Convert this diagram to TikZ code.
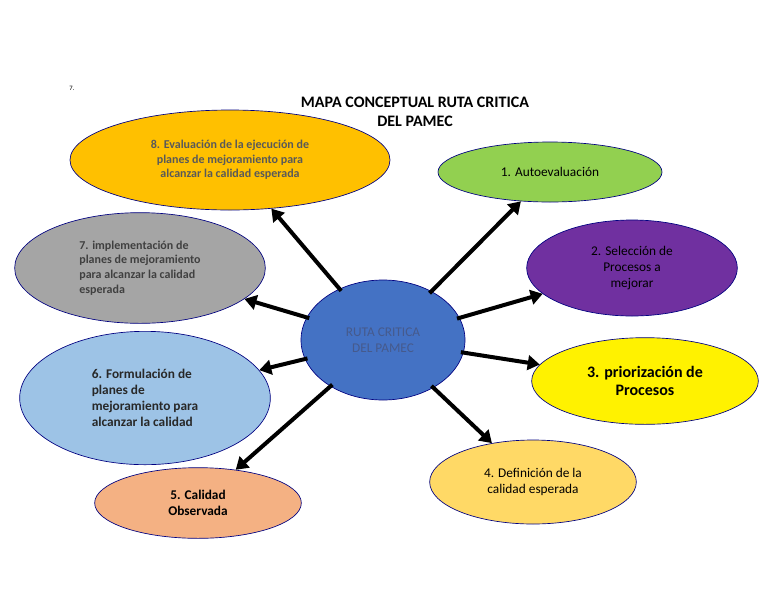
\documentclass[tikz,border=0pt]{standalone}
\usepackage{fontspec}
\setmainfont{Carlito}
\usetikzlibrary{shapes.geometric,arrows.meta}
\begin{document}
\begin{tikzpicture}[x=0.75pt,y=-0.75pt,
  el/.style={ellipse,draw=blue!50!black,line width=0.5pt,minimum width=#1,inner sep=0pt,align=center},
  arr/.style={line width=3pt,-{Triangle[length=9pt,width=11pt]},shorten <=-2pt}]
\useasboundingbox (0,0) rectangle (768,594);
\node[font=\bfseries\large,align=center] (t) at (415,112) {MAPA CONCEPTUAL RUTA CRITICA\\DEL PAMEC};
\node[font=\tiny] (s) at (72,88) {7.};
\node[el,fill={rgb,255:red,68;green,114;blue,196},minimum width=123pt,minimum height=90pt,text={rgb,255:red,70;green,90;blue,140}] (c) at (383,340) {RUTA CRITICA\\DEL PAMEC};
\node[el,fill={rgb,255:red,255;green,192;blue,0},minimum width=240pt,minimum height=75pt,font=\bfseries\small,text={rgb,255:red,89;green,89;blue,89}] (n8) at (230,160) {8. Evaluación de la ejecución de\\planes de mejoramiento para\\alcanzar la calidad esperada};
\node[el,fill={rgb,255:red,146;green,208;blue,80},minimum width=168pt,minimum height=45pt] (n1) at (550,172) {1. Autoevaluación};
\node[el,fill={rgb,255:red,112;green,48;blue,160},minimum width=158pt,minimum height=72pt] (n2) at (632,268) {2. Selección de\\Procesos a\\mejorar};
\node[el,fill={rgb,255:red,165;green,165;blue,165},minimum width=188pt,minimum height=83pt,font=\bfseries\small,text={rgb,255:red,64;green,64;blue,64},align=left] (n7) at (140,268) {7. implementación de\\planes de mejoramiento\\para alcanzar la calidad\\esperada};
\node[el,fill=yellow,minimum width=170pt,minimum height=65pt,font=\bfseries\large] (n3) at (645,381) {3. priorización de\\Procesos};
\node[el,fill={rgb,255:red,157;green,195;blue,230},minimum width=188pt,minimum height=100pt,font=\bfseries,text={rgb,255:red,40;green,40;blue,40},align=left] (n6) at (145,398) {6. Formulación de\\planes de\\mejoramiento para\\alcanzar la calidad};
\node[el,fill={rgb,255:red,255;green,217;blue,102},minimum width=155pt,minimum height=63pt] (n4) at (533,482) {4. Definición de la\\calidad esperada};
\node[el,fill={rgb,255:red,244;green,177;blue,131},minimum width=155pt,minimum height=53pt,font=\bfseries] (n5) at (198,503) {5. Calidad\\Observada};
\foreach \n in {n8,n1,n2,n7,n3,n6,n4,n5} \draw[arr] (c) -- (\n);
\end{tikzpicture}
\end{document}
